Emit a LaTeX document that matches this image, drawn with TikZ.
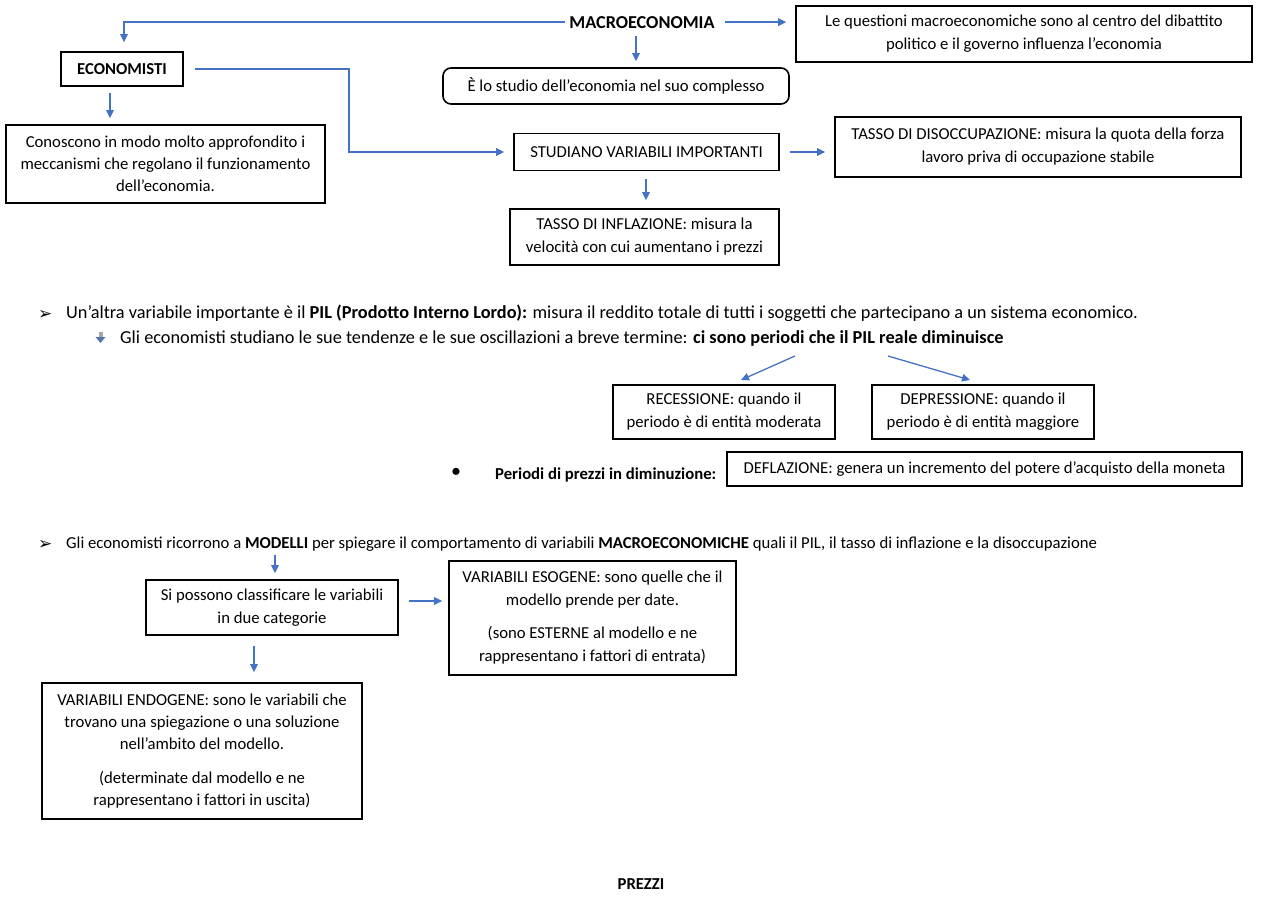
\documentclass[tikz,border=0pt]{standalone}
\usepackage{fontspec}
\setmainfont{Carlito}
\newfontfamily\djv{DejaVu Sans}
\usetikzlibrary{arrows.meta}
\definecolor{wblue}{HTML}{4472C4}
\begin{document}
\begin{tikzpicture}[x=1pt,y=-1pt,font=\fontsize{16.7}{23}\selectfont,
  box/.style={draw=black,line width=1.6pt,inner sep=0pt,align=center},
  txt/.style={inner sep=0pt,anchor=base west},
  big/.style={font=\fontsize{18.3}{23}\selectfont},
  pointer/.style={inner sep=0pt,anchor=base west,font=\djv\fontsize{17}{19}\selectfont},
  arr/.style={draw=wblue,line width=1.3pt,-{Triangle[length=8pt,width=7.5pt]}}]
\useasboundingbox (0,0) rectangle (1280,905);
% top part
\node[inner sep=4pt,anchor=base,font=\fontsize{18.2}{23}\selectfont\bfseries] (macro) at (642,28) {MACROECONOMIA};
\node[box,minimum width=456pt,minimum height=56pt] (quest) at (1024,34) {Le questioni macroeconomiche sono al centro del dibattito\\politico e il governo influenza l’economia};
\node[box,rounded corners=8pt,minimum width=346pt,minimum height=36pt] (studio) at (616,86) {È lo studio dell’economia nel suo complesso};
\node[box,minimum width=122pt,minimum height=34pt,font=\fontsize{16.7}{23}\selectfont\bfseries] (econ) at (122,69) {ECONOMISTI};
\node[box,minimum width=319pt,minimum height=78pt,font=\fontsize{16.7}{22}\selectfont] (cono) at (165.5,164) {Conoscono in modo molto approfondito i\\meccanismi che regolano il funzionamento\\dell’economia.};
\node[box,minimum width=265pt,minimum height=37pt] (stud) at (646.5,152) {STUDIANO VARIABILI IMPORTANTI};
\node[box,minimum width=406pt,minimum height=60pt] (disocc) at (1038,147) {TASSO DI DISOCCUPAZIONE: misura la quota della forza\\lavoro priva di occupazione stabile};
\node[box,minimum width=269pt,minimum height=56pt] (infl) at (644.5,237) {TASSO DI INFLAZIONE: misura la\\velocità con cui aumentano i prezzi};
\draw[arr,shorten >=9pt] (macro.west) -| (econ.north -| 124,0);
\draw[arr,shorten <=4pt,shorten >=6pt] (macro.south -| 636,0) -- (studio.north -| 636,0);
\draw[arr,shorten <=6pt,shorten >=9pt] (macro.east) -- (quest.west |- macro.east);
\draw[arr,shorten <=6pt,shorten >=6pt] (econ.south -| 110,0) -- (cono.north -| 110,0);
\draw[arr,shorten <=11pt,shorten >=9pt] (econ.east) -- (349,69) |- (stud.west);
\draw[arr,shorten <=10pt,shorten >=9pt] (stud.east) -- (disocc.west |- stud.east);
\draw[arr,shorten <=8pt,shorten >=8pt] (stud.south -| 646,0) -- (infl.north -| 646,0);
% PIL section
\node[pointer] (b1) at (38,319) {➢};
\node[txt,big] (l1) at (66,318) {Un’altra variabile importante è il \textbf{PIL (Prodotto Interno Lordo):} misura il reddito totale di tutti i soggetti che partecipano a un sistema economico.};
\fill[gray!70] (98.5,332) rectangle (102.5,338);
\fill[wblue!70!gray] (95.5,337) -- (105.5,337) -- (100.5,343) -- cycle;
\node[txt,big] (l2) at (120,343) {Gli economisti studiano le sue tendenze e le sue oscillazioni a breve termine: \textbf{ci sono periodi che il PIL reale diminuisce}};
\node[box,minimum width=222pt,minimum height=54pt] (rec) at (724,412) {RECESSIONE: quando il\\periodo è di entità moderata};
\node[box,minimum width=222pt,minimum height=54pt] (dep) at (983,412) {DEPRESSIONE: quando il\\periodo è di entità maggiore};
\coordinate (s1) at (795,356);
\coordinate (s2) at (888,356);
\draw[arr] (s1) -- (741,380);
\draw[arr] (s2) -- (970,380);
\node[txt,font=\fontsize{20}{23}\selectfont] (dot) at (451,477) {•};
\node[txt,font=\fontsize{16.7}{23}\selectfont\bfseries] (per) at (495,479) {Periodi di prezzi in diminuzione:};
\node[box,minimum width=515pt,minimum height=34pt] (defl) at (984.5,469) {DEFLAZIONE: genera un incremento del potere d’acquisto della moneta};
% MODELLI section
\node[pointer] (b2) at (38,549) {➢};
\node[txt] (l3) at (66,548) {Gli economisti ricorrono a \textbf{MODELLI} per spiegare il comportamento di variabili \textbf{MACROECONOMICHE} quali il PIL, il tasso di inflazione e la disoccupazione};
\node[box,minimum width=252pt,minimum height=55pt] (clas) at (272,607.5) {Si possono classificare le variabili\\in due categorie};
\node[box,minimum width=287pt,minimum height=114pt] (eso) at (592.5,618) {VARIABILI ESOGENE: sono quelle che il\\modello prende per date.\\[10pt](sono ESTERNE al modello e ne\\rappresentano i fattori di entrata)};
\node[box,minimum width=320pt,minimum height=136pt,font=\fontsize{16.7}{22}\selectfont] (endo) at (202,751) {VARIABILI ENDOGENE: sono le variabili che\\trovano una spiegazione o una soluzione\\nell’ambito del modello.\\[12pt](determinate dal modello e ne\\rappresentano i fattori in uscita)};
\draw[arr,shorten >=6pt] (l3.south -| 275,0) ++(0,4) -- (clas.north -| 275,0);
\draw[arr,shorten <=10pt,shorten >=6pt] (clas.east |- 0,601) -- (eso.west |- 0,601);
\draw[arr,shorten <=10pt,shorten >=10pt] (clas.south -| 254,0) -- (endo.north -| 254,0);
\node[inner sep=0pt,anchor=base,font=\fontsize{16.7}{23}\selectfont\bfseries] (prezzi) at (641,889) {PREZZI};
\end{tikzpicture}
\end{document}
